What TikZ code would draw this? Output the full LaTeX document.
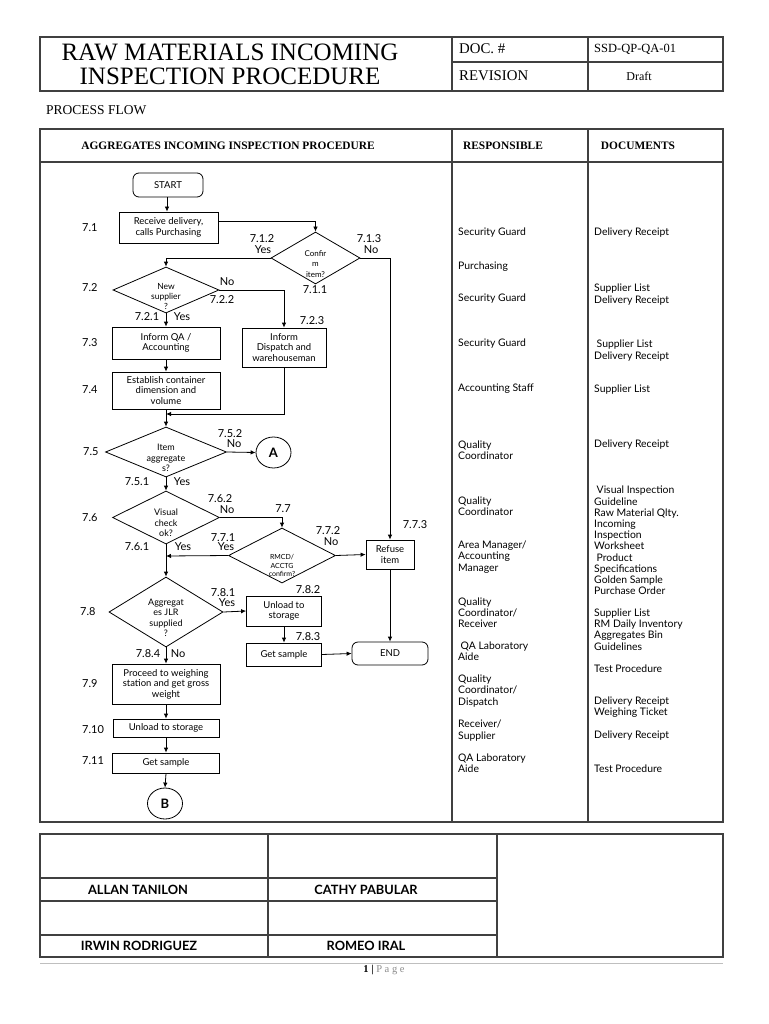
\documentclass[tikz,border=0pt]{standalone}
\usepackage{fontspec}
\setmainfont{Liberation Serif}
\newfontfamily\cf{Lato}
\usetikzlibrary{shapes.geometric,arrows.meta}
\begin{document}
\begin{tikzpicture}[x=1pt,y=-1pt,
 tl/.style={draw=black!75,line width=1.2pt},
 proc/.style={draw,line width=0.8pt,inner sep=1pt,align=center,font=\cf\fontsize{9.5}{10.5}\selectfont},
 term/.style={proc,rounded corners=6pt},
 dia/.style={diamond,draw,line width=0.8pt,inner sep=0pt},
 dtext/.style={inner sep=0pt,align=center,font=\cf\fontsize{9}{10.5}\selectfont},
 lbl/.style={inner sep=0pt,font=\cf\fontsize{11}{12}\selectfont},
 num/.style={lbl,anchor=west},
 col/.style={inner sep=0pt,align=left,anchor=west,font=\cf\fontsize{10.4}{11.2}\selectfont},
 conn/.style={ellipse,draw,line width=0.8pt,minimum width=35pt,minimum height=31pt,inner sep=0pt,font=\cf\bfseries\fontsize{13}{14}\selectfont},
 arr/.style={-{Latex[length=5pt,width=4.5pt]},line width=0.8pt},
 sig/.style={inner sep=0pt,font=\cf\bfseries\fontsize{12.8}{14}\selectfont},
 hd/.style={inner sep=0pt,font=\bfseries\fontsize{11.4}{13}\selectfont}]

\useasboundingbox (0,0) rectangle (768,1024);
\fill[white] (0,0) rectangle (768,1024);

% ---------- header ----------
\draw[tl] (40,37) rectangle (723,91);
\draw[tl] (452,37) -- (452,91);
\draw[tl] (588,37) -- (588,91);
\draw[tl] (452,62) -- (723,62);
\node[inner sep=0pt,align=center,font=\fontsize{25}{24}\selectfont] (title) at (230,64) {RAW MATERIALS INCOMING\\INSPECTION PROCEDURE};
\node[inner sep=0pt,anchor=west,font=\fontsize{14.8}{16}\selectfont] (doc) at (459,49) {DOC. \#};
\node[inner sep=0pt,anchor=west,font=\fontsize{14.8}{16}\selectfont] (rev) at (459,76) {REVISION};
\node[inner sep=0pt,anchor=west,font=\fontsize{12.5}{14}\selectfont] (docno) at (594,49) {SSD-QP-QA-01};
\node[inner sep=0pt,font=\fontsize{12}{14}\selectfont] (draft) at (639,76) {Draft};
\node[inner sep=0pt,anchor=west,font=\fontsize{13.5}{15}\selectfont] (pf) at (46,110) {PROCESS FLOW};

% ---------- main table ----------
\draw[tl] (40,129) rectangle (723,822);
\draw[tl] (40,162) -- (723,162);
\draw[tl] (452,129) -- (452,822);
\draw[tl] (588,129) -- (588,822);
\node[hd] (h1) at (228,146) {AGGREGATES INCOMING INSPECTION PROCEDURE};
\node[hd] (h2) at (503,146) {RESPONSIBLE};
\node[hd] (h3) at (638,146) {DOCUMENTS};

% ---------- flowchart nodes ----------
\node[term,minimum width=70pt,minimum height=24pt] (start) at (168,185) {START};
\node[proc,minimum width=99pt,minimum height=31pt] (b71) at (168.5,227.5) {Receive delivery,\\calls Purchasing};
\node[dia,minimum width=89pt,minimum height=52pt] (d71) at (315.5,258) {};
\node[dtext,font=\cf\fontsize{8}{10.5}\selectfont] (t71) at ([yshift=-6pt]d71.center) {Confir\\m\\item?};
\node[dia,minimum width=106pt,minimum height=46pt] (d72) at (166,290) {};
\node[dtext,font=\cf\fontsize{8.5}{10}\selectfont] (t72) at ([yshift=-6pt]d72.center) {New\\supplier\\?};
\node[proc,minimum width=108pt,minimum height=32pt] (b73) at (166,343) {Inform QA /\\Accounting};
\node[proc,minimum width=84pt,minimum height=39pt] (b723) at (284,347.5) {Inform\\Dispatch and\\warehouseman};
\node[proc,minimum width=108pt,minimum height=37pt] (b74) at (166,390.5) {Establish container\\dimension and\\volume};
\node[dia,minimum width=121pt,minimum height=50pt] (d75) at (166,452) {};
\node[dtext] (t75) at ([yshift=-6pt]d75.center) {Item\\aggregate\\s?};
\node[conn] (A) at (273.5,452.5) {A};
\node[dia,minimum width=107pt,minimum height=53pt] (d76) at (166,517.5) {};
\node[dtext] (t76) at ([yshift=-5.5pt]d76.center) {Visual\\check\\ok?};
\node[dia,minimum width=107pt,minimum height=55pt] (d77) at (282,555.5) {};
\node[dtext,font=\cf\fontsize{7}{8.8}\selectfont] (t77) at ([yshift=-10pt]d77.center) {RMCD/\\ACCTG\\confirm?};
\node[proc,minimum width=48pt,minimum height=29pt] (ref) at (390,554.5) {Refuse\\item};
\node[dia,minimum width=114pt,minimum height=70pt] (d78) at (166,612) {};
\node[dtext] (t78) at ([yshift=-6pt]d78.center) {Aggregat\\es JLR\\supplied\\?};
\node[proc,minimum width=75pt,minimum height=30pt] (b782) at (284,611) {Unload to\\storage};
\node[proc,minimum width=75pt,minimum height=23pt] (gs1) at (284,654.5) {Get sample};
\node[term,minimum width=76pt,minimum height=23pt] (end) at (390,653.5) {END};
\node[proc,minimum width=108pt,minimum height=40pt] (b79) at (166,684) {Proceed to weighing\\station and get gross\\weight};
\node[proc,minimum width=106pt,minimum height=18pt] (b710) at (166,728) {Unload to storage};
\node[proc,minimum width=107pt,minimum height=20pt] (b711) at (166,763) {Get sample};
\node[conn] (B) at (165,803.5) {B};

\coordinate (j1) at (166,414);
\coordinate (j2) at (166,556);

% ---------- connectors ----------
\draw[arr] (start.south -| 167,0) -- (b71.north -| 167,0);
\draw[arr] ([yshift=6pt]b71.east) -| (d71.north);
\draw[arr] (d71.west) -| (d72.north);
\draw[arr] (d71.east) -| (ref.north);
\draw[arr] (d72.east) -| (b723.north);
\draw[arr] (d72.south) -- (b73.north);
\draw[arr] (b73.south) -- (b74.north);
\draw[arr] (b723.south) |- (j1);
\draw[arr] (b74.south) -- (d75.north);
\draw[arr] (d75.east) -- (A.west);
\draw[arr] (d75.south) -- (d76.north);
\draw[arr] (d76.east) -| (d77.north);
\draw[arr] (d77.east) -- (ref.west);
\draw[arr] (d77.west) -- (j2);
\draw[arr] (d76.south) -- (d78.north);
\draw[arr] (ref.south) -- (end.north);
\draw[arr] (d78.east) -- (b782.west);
\draw[arr] (b782.south) -- (gs1.north);
\draw[arr] (gs1.east) -- (end.west);
\draw[arr] (d78.south) -- (b79.north);
\draw[arr] (b79.south) -- (b710.north);
\draw[arr] (b710.south) -- (b711.north);
\draw[arr] (b711.south) -- (B.north);

% ---------- step labels ----------
\node[num] (n71) at (82,228) {7.1};
\node[num] (n72) at (82,288) {7.2};
\node[num] (n73) at (82,343) {7.3};
\node[num] (n74) at (82,390) {7.4};
\node[num] (n75) at (83,452) {7.5};
\node[num] (n76) at (82,518) {7.6};
\node[num] (n78) at (80,612) {7.8};
\node[num] (n79) at (82,684) {7.9};
\node[num] (n710) at (82,730) {7.10};
\node[num] (n711) at (82,761) {7.11};
\node[lbl] (l712) at (262,239) {7.1.2};
\node[lbl] (y712) at (263,250) {Yes};
\node[lbl] (l713) at (369,239) {7.1.3};
\node[lbl] (n713) at (371,250) {No};
\node[lbl] (l711) at (315,290) {7.1.1};
\node[lbl] (n722) at (227,282) {No};
\node[lbl] (l722) at (222,300) {7.2.2};
\node[lbl] (l721) at (147,317) {7.2.1};
\node[lbl] (y721) at (182,317) {Yes};
\node[lbl] (l723) at (312,321) {7.2.3};
\node[lbl] (l752) at (230,434) {7.5.2};
\node[lbl] (n752) at (234,444) {No};
\node[lbl] (l751) at (137,482) {7.5.1};
\node[lbl] (y751) at (182,482) {Yes};
\node[lbl] (l762) at (220,499) {7.6.2};
\node[lbl] (n762) at (227,510) {No};
\node[lbl] (l77) at (283,509) {7.7};
\node[lbl] (l772) at (328,531) {7.7.2};
\node[lbl] (n772) at (331,542) {No};
\node[lbl] (l773) at (415,525) {7.7.3};
\node[lbl] (l771) at (223,538) {7.7.1};
\node[lbl] (y771) at (226,547) {Yes};
\node[lbl] (l761) at (137,547) {7.6.1};
\node[lbl] (y761) at (183,547) {Yes};
\node[lbl] (l781) at (223,593) {7.8.1};
\node[lbl] (y781) at (227,603) {Yes};
\node[lbl] (l782) at (308,590) {7.8.2};
\node[lbl] (l783) at (308,637) {7.8.3};
\node[lbl] (l784) at (148,654) {7.8.4};
\node[lbl] (n784) at (178,654) {No};

% ---------- responsible ----------
\node[col] (r1) at (458,233) {Security Guard};
\node[col] (r2) at (458,267) {Purchasing};
\node[col] (r3) at (458,299) {Security Guard};
\node[col] (r4) at (458,344) {Security Guard};
\node[col] (r5) at (458,389) {Accounting Staff};
\node[col] (r6) at (458,450.5) {Quality\\Coordinator};
\node[col] (r7) at (458,506.5) {Quality\\Coordinator};
\node[col] (r8) at (458,557) {Area Manager/\\Accounting\\Manager};
\node[col] (r9) at (458,613) {Quality\\Coordinator/\\Receiver};
\node[col] (r10) at (458,651.5) {\hspace*{2.5pt}QA Laboratory\\Aide};
\node[col] (r11) at (458,691) {Quality\\Coordinator/\\Dispatch};
\node[col] (r12) at (458,730.5) {Receiver/\\Supplier};
\node[col] (r13) at (458,763.5) {QA Laboratory\\Aide};

% ---------- documents ----------
\node[col] (c1) at (594,233) {Delivery Receipt};
\node[col] (c2) at (594,294.5) {Supplier List\\Delivery Receipt};
\node[col] (c3) at (594,350.5) {\hspace*{2.5pt}Supplier List\\Delivery Receipt};
\node[col] (c4) at (594,390) {Supplier List};
\node[col] (c5) at (594,445) {Delivery Receipt};
\node[col] (c6) at (594,540.5) {\hspace*{2.5pt}Visual Inspection\\Guideline\\Raw Material Qlty.\\Incoming\\Inspection\\Worksheet\\\hspace*{2.5pt}Product\\Specifications\\Golden Sample\\Purchase Order};
\node[col] (c7) at (594,629.5) {Supplier List\\RM Daily Inventory\\Aggregates Bin\\Guidelines};
\node[col] (c8) at (594,669) {Test Procedure};
\node[col] (c9) at (594,707.5) {Delivery Receipt\\Weighing Ticket};
\node[col] (c10) at (594,736) {Delivery Receipt};
\node[col] (c11) at (594,769) {Test Procedure};

% ---------- signature table ----------
\draw[tl] (40,834) rectangle (723,957);
\draw[tl] (268,834) -- (268,957);
\draw[tl] (497,834) -- (497,957);
\draw[tl,line width=1.8pt] (40,878) -- (497,878);
\draw[tl] (40,901) -- (497,901);
\draw[tl,line width=1.8pt] (40,935) -- (497,935);
\node[sig] (s1) at (138,889.5) {ALLAN TANILON};
\node[sig] (s2) at (366,889.5) {CATHY PABULAR};
\node[sig] (s3) at (139,946) {IRWIN RODRIGUEZ};
\node[sig] (s4) at (366,946) {ROMEO IRAL};

% ---------- footer ----------
\draw[black!25,line width=0.8pt] (40,963) -- (723,963);
\node[inner sep=0pt,font=\fontsize{10.5}{12}\selectfont] (pg) at (384,970) {\textbf{1 |} \textcolor{black!45}{P a g e}};
\end{tikzpicture}
\end{document}
